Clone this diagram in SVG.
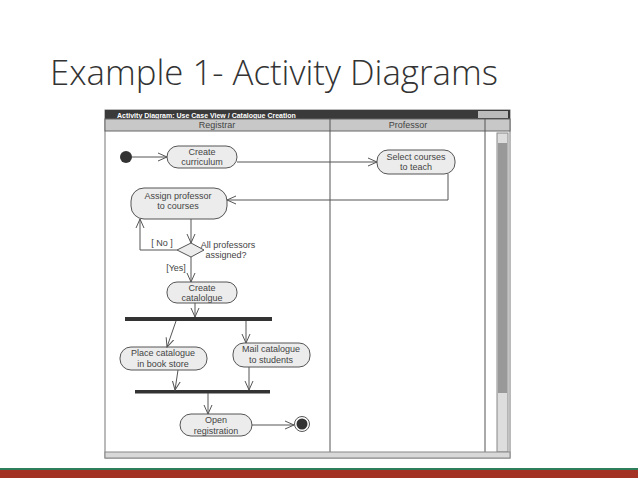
<svg xmlns="http://www.w3.org/2000/svg" width="638" height="478" viewBox="0 0 638 478">
<defs>
<marker id="a" markerWidth="10" markerHeight="10" refX="9" refY="5" orient="auto" markerUnits="userSpaceOnUse"><path d="M0,1 L9,5 L0,9" fill="none" stroke="#555" stroke-width="1"/></marker>
</defs>
<style>
.n{fill:#ececec;stroke:#555;stroke-width:1}
.t{font-family:"Liberation Sans",Arial,sans-serif;font-size:9px;fill:#444;text-anchor:middle}
.l{fill:none;stroke:#555;stroke-width:1;marker-end:url(#a)}
.bar{fill:#333}
</style>
<rect width="638" height="478" fill="#fff"/>
<text x="50" y="85" font-family="'Open Sans','Liberation Sans',sans-serif" font-size="34.8" font-weight="300" fill="#333">Example 1- Activity Diagrams</text>
<g id="window">
<rect x="105" y="110" width="405" height="348" fill="#fff" stroke="#777"/>
<rect x="105" y="110" width="405" height="9" fill="#3a3a3a"/>
<text x="117" y="117.5" font-family="'Liberation Sans',sans-serif" font-size="7" font-weight="bold" fill="#fff">Activity Diagram: Use Case View / Catalogue Creation</text>
<rect x="478" y="111" width="30" height="7" fill="#bbb"/>
<rect x="105" y="119" width="405" height="12" fill="#c8c8c8" stroke="#666"/>
<text x="217" y="128" class="t" font-size="6">Registrar</text>
<text x="408" y="128" class="t" font-size="6">Professor</text>
<line x1="330" y1="119" x2="330" y2="452" stroke="#555"/>
<line x1="485" y1="119" x2="485" y2="452" stroke="#555"/>
<rect x="497" y="133" width="11" height="319" fill="#ddd" stroke="#888"/>
<rect x="498" y="143" width="9" height="250" fill="#999"/>
<rect x="105" y="452" width="405" height="6" fill="#d8d8d8" stroke="#888"/>
</g>
<g id="start"><circle cx="126" cy="157" r="6" fill="#333"/></g>
<g id="create-curriculum"><rect class="n" x="167" y="146" width="70" height="22" rx="11"/><text class="t" x="202" y="155">Create</text><text class="t" x="202" y="165">curriculum</text></g>
<g id="select-courses"><rect class="n" x="377" y="150" width="78" height="24" rx="11"/><text class="t" x="416" y="160">Select courses</text><text class="t" x="416" y="170">to teach</text></g>
<g id="assign-professor"><rect class="n" x="131" y="188" width="96" height="31" rx="13"/><text class="t" x="178" y="199">Assign professor</text><text class="t" x="178" y="209">to courses</text></g>
<g id="decision"><polygon class="n" points="191,243 204,250 191,257 177,250"/><text class="t" x="228" y="248">All professors</text><text class="t" x="226" y="258">assigned?</text></g>
<g id="create-catalogue"><rect class="n" x="167" y="282" width="70" height="21" rx="10"/><text class="t" x="202" y="291">Create</text><text class="t" x="202" y="301">catalolgue</text></g>
<g id="fork"><rect class="bar" x="125" y="317" width="147" height="4"/></g>
<g id="place-catalogue"><rect class="n" x="120" y="347" width="87" height="23" rx="11"/><text class="t" x="163" y="356">Place catalogue</text><text class="t" x="163" y="367">in book store</text></g>
<g id="mail-catalogue"><rect class="n" x="233" y="343" width="77" height="24" rx="11"/><text class="t" x="271" y="352">Mail catalogue</text><text class="t" x="271" y="363">to students</text></g>
<g id="join"><rect class="bar" x="135" y="390" width="135" height="3.5"/></g>
<g id="open-registration"><rect class="n" x="180" y="414" width="72" height="22" rx="11"/><text class="t" x="216" y="423">Open</text><text class="t" x="216" y="434">registration</text></g>
<g id="end"><circle cx="302" cy="424" r="7.5" fill="#fff" stroke="#555"/><circle cx="302" cy="424" r="5.5" fill="#333"/></g>
<g id="connectors">
<path class="l" d="M132,157 H167"/>
<path class="l" d="M237,162 H377"/>
<path class="l" d="M448,174 V200 H227"/>
<path class="l" d="M191,219 V243"/>
<path class="l" d="M177,250 H140 V219"/>
<path class="l" d="M191,257 V282"/>
<path class="l" d="M195,303 V317"/>
<path class="l" d="M176,321 L167,347"/>
<path class="l" d="M246,321 V343"/>
<path class="l" d="M178,370 L175,390"/>
<path class="l" d="M249,367 V390"/>
<path class="l" d="M208,393 V414"/>
<path class="l" d="M252,425 H294"/>
<text class="t" x="162" y="246">[ No ]</text>
<text class="t" x="176" y="271">[Yes]</text>
</g>
<rect x="0" y="468" width="638" height="2" fill="#2e7d5b"/>
<rect x="0" y="470" width="638" height="8" fill="#a33224"/>
</svg>
